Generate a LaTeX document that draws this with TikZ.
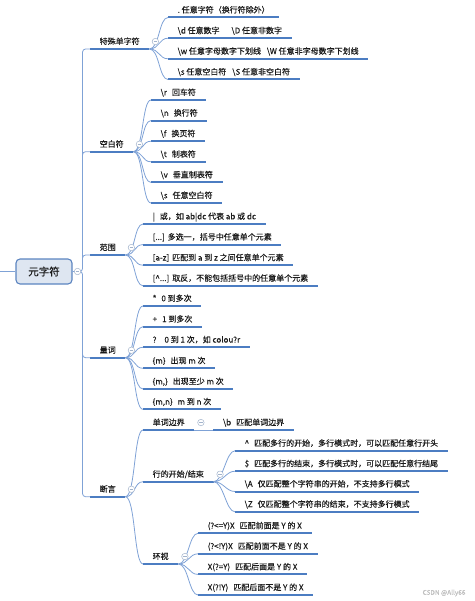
\documentclass[tikz,border=0pt]{standalone}
\usepackage{fontspec}
\setmainfont{Noto Sans CJK SC}[FakeBold=0.35]
\definecolor{lineblue}{HTML}{4C7DC2}
\definecolor{linklight}{HTML}{7FA2D6}
\definecolor{rootfill}{HTML}{DEE6F1}
\definecolor{rootedge}{HTML}{5B84C0}
\definecolor{foldgray}{HTML}{A3B4CC}
\definecolor{txt}{HTML}{1A1A1A}
\newcommand{\bsl}{\textbackslash}
\tikzset{
  uline/.style={draw=lineblue, line width=2pt},
  link/.style={draw=linklight, line width=0.8pt},
  branch/.style={to path={.. controls +(10,0) and +(-9,0) .. (\tikztotarget)}},
  topic/.style={anchor=south west, inner xsep=9.5pt, inner ysep=3pt,
    text height=7pt, text depth=1.5pt, text=txt, font=\fontsize{8}{9}\selectfont,
    append after command={(\tikzlastnode.south west) edge[uline] (\tikzlastnode.south east)}},
  fold/.style={circle, draw=foldgray, fill=white, line width=0.5pt,
    minimum size=6.5pt, inner sep=0pt,
    path picture={\draw[foldgray, line width=0.5pt]
      ([xshift=-1.8pt]path picture bounding box.center) --
      ([xshift=1.8pt]path picture bounding box.center);}},
  rootbox/.style={draw=rootedge, fill=rootfill, line width=1.1pt,
    rounded corners=4pt, minimum width=56pt, minimum height=25pt,
    text=txt, font=\fontsize{10.5}{12}\selectfont},
  wmark/.style={anchor=east, text=black!25, font=\fontsize{6.5}{7}\selectfont}
}
\begin{document}
\begin{tikzpicture}[x=1pt,y=-1pt]
  \useasboundingbox (0,0) rectangle (474,601);

  % root
  \node[rootbox] (root) at (44,271.5) {元字符};
  \coordinate (lead) at (0,271.5);
  \draw[link] (lead) -- (root.west);

  % first level
  \node[topic] (special) at (90,49) {特殊单字符};
  \node[topic] (blank) at (90,151.7) {空白符};
  \node[topic] (range) at (90,255) {范围};
  \node[topic] (quant) at (90,357.7) {量词};
  \node[topic] (assert) at (90,496.7) {断言};
  \draw[link, rounded corners=3pt] (root.east) -- ++(10,0) |- (special.south west)
    (root.east) -- ++(10,0) |- (blank.south west)
    (root.east) -- ++(10,0) |- (range.south west)
    (root.east) -- ++(10,0) |- (quant.south west)
    (root.east) -- ++(10,0) |- (assert.south west);

  % special single characters
  \node[topic] (special1) at (168,17.5) {.\ 任意字符（换行符除外）};
  \node[topic] (special2) at (168,38.2) {\bsl d 任意数字\hspace{12pt}\bsl D 任意非数字};
  \node[topic] (special3) at (168,58.8) {\bsl w 任意字母数字下划线\hspace{6pt}\bsl W 任意非字母数字下划线};
  \node[topic] (special4) at (168,79.5) {\bsl s 任意空白符\hspace{6pt}\bsl S 任意非空白符};
  \draw[link] (special.south east) edge[branch] (special1.south west)
    edge[branch] (special2.south west) edge[branch] (special3.south west)
    edge[branch] (special4.south west);

  % whitespace
  \node[topic] (blank1) at (151,100) {\bsl r\hspace{5pt}回车符};
  \node[topic] (blank2) at (151,120.6) {\bsl n\hspace{5pt}换行符};
  \node[topic] (blank3) at (151,141.2) {\bsl f\hspace{5pt}换页符};
  \node[topic] (blank4) at (151,161.8) {\bsl t\hspace{5pt}制表符};
  \node[topic] (blank5) at (151,182.4) {\bsl v\hspace{5pt}垂直制表符};
  \node[topic] (blank6) at (151,203) {\bsl s\hspace{5pt}任意空白符};
  \draw[link] (blank.south east) edge[branch] (blank1.south west)
    edge[branch] (blank2.south west) edge[branch] (blank3.south west)
    edge[branch] (blank4.south west) edge[branch] (blank5.south west)
    edge[branch] (blank6.south west);

  % ranges
  \node[topic] (range1) at (143,224) {|\hspace{5pt}或，如 ab|dc 代表 ab 或 dc};
  \node[topic] (range2) at (143,244.6) {[...]\hspace{3pt}多选一，括号中任意单个元素};
  \node[topic] (range3) at (143,265.2) {[a-z]\hspace{3pt}匹配到 a 到 z 之间任意单个元素};
  \node[topic] (range4) at (143,285.8) {[\textasciicircum...]\hspace{3pt}取反，不能包括括号中的任意单个元素};
  \draw[link] (range.south east) edge[branch] (range1.south west)
    edge[branch] (range2.south west) edge[branch] (range3.south west)
    edge[branch] (range4.south west);

  % quantifiers
  \node[topic] (quant1) at (143,306) {*\hspace{5pt}0 到多次};
  \node[topic] (quant2) at (143,326.7) {+\hspace{5pt}1 到多次};
  \node[topic] (quant3) at (143,347.3) {?\hspace{8pt}0 到 1 次，如 colou?r};
  \node[topic] (quant4) at (143,368.3) {\{m\}\hspace{5pt}出现 m 次};
  \node[topic] (quant5) at (143,389) {\{m,\}\hspace{5pt}出现至少 m 次};
  \node[topic] (quant6) at (143,409.3) {\{m,n\}\hspace{5pt}m 到 n 次};
  \draw[link] (quant.south east) edge[branch] (quant1.south west)
    edge[branch] (quant2.south west) edge[branch] (quant3.south west)
    edge[branch] (quant4.south west) edge[branch] (quant5.south west)
    edge[branch] (quant6.south west);

  % assertions
  \node[topic] (word) at (143,430) {单词边界};
  \node[topic] (line) at (143,481.7) {行的开始/结束};
  \node[topic] (look) at (143,564) {环视};
  \draw[link] (assert.south east) edge[branch] (word.south west)
    edge[branch] (line.south west) edge[branch] (look.south west);

  \node[topic] (word1) at ([xshift=19pt]word.south east) {\bsl b\hspace{5pt}匹配单词边界};
  \draw[link] (word.south east) -- (word1.south west);

  \node[topic] (line1) at (235,450.8) {\textasciicircum\hspace{5pt}匹配多行的开始，多行模式时，可以匹配任意行开头};
  \node[topic] (line2) at (235,471.2) {\$\hspace{5pt}匹配多行的结束，多行模式时，可以匹配任意行结尾};
  \node[topic] (line3) at (235,491.5) {\bsl A\hspace{5pt}仅匹配整个字符串的开始，不支持多行模式};
  \node[topic] (line4) at (235,511.8) {\bsl Z\hspace{5pt}仅匹配整个字符串的结束，不支持多行模式};
  \draw[link] (line.south east) edge[branch] (line1.south west)
    edge[branch] (line2.south west) edge[branch] (line3.south west)
    edge[branch] (line4.south west);

  \node[topic] (look1) at (198,533.3) {(?<=Y)X\hspace{5pt}匹配前面是 Y 的 X};
  \node[topic] (look2) at (198,553.8) {(?<!Y)X\hspace{5pt}匹配前面不是 Y 的 X};
  \node[topic] (look3) at (198,574.4) {X(?=Y)\hspace{5pt}匹配后面是 Y 的 X};
  \node[topic] (look4) at (198,595) {X(?!Y)\hspace{5pt}匹配后面不是 Y 的 X};
  \draw[link] (look.south east) edge[branch] (look1.south west)
    edge[branch] (look2.south west) edge[branch] (look3.south west)
    edge[branch] (look4.south west);

  % collapse buttons
  \node[fold] (fold0) at ([xshift=5pt]root.east) {};
  \node[fold] (fold1) at ([xshift=6pt]special.east) {};
  \node[fold] (fold2) at ([xshift=6pt]blank.east) {};
  \node[fold] (fold3) at ([xshift=6pt]range.east) {};
  \node[fold] (fold4) at ([xshift=6pt]quant.east) {};
  \node[fold] (fold5) at ([xshift=6pt]assert.east) {};
  \node[fold] (fold6) at ([xshift=6.5pt]word.east) {};
  \node[fold] (fold7) at ([xshift=6.5pt]line.east) {};
  \node[fold] (fold8) at ([xshift=6.5pt]look.east) {};

  \node[wmark] (csdn) at (469,593) {CSDN @Ally66};
\end{tikzpicture}
\end{document}
